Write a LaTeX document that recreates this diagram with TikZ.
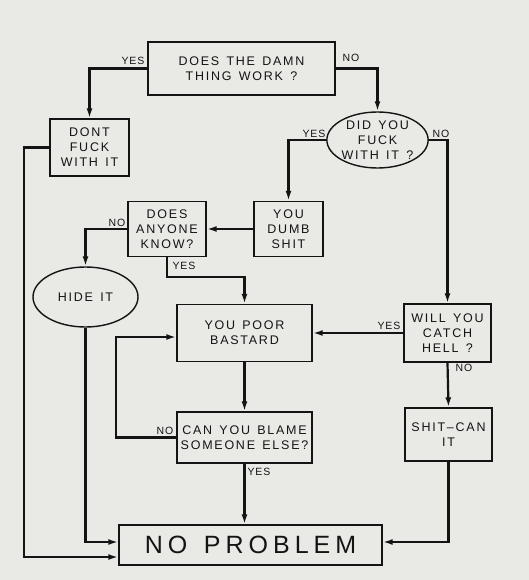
\documentclass[tikz,border=0pt]{standalone}
\usepackage{fontspec}
\setmainfont{Liberation Sans}
\newfontfamily\letterfont[LetterSpace=14,WordSpace=1.4]{Liberation Sans}
\newfontfamily\labelletterfont[LetterSpace=8]{Liberation Sans}
\newfontfamily\bigletterfont[LetterSpace=20,WordSpace=1.4]{Liberation Sans}
\usepackage{tikz}
\usetikzlibrary{
	arrows.meta,
	calc,
	positioning,
	shapes.geometric
}

\definecolor{paper}{RGB}{233,233,230}
\definecolor{ink}{RGB}{20,20,20}

\newcommand{\boxfont}{\letterfont\fontsize{12.5}{15}\selectfont}
\newcommand{\lblfont}{\labelletterfont\fontsize{10.5}{12}\selectfont}
\newcommand{\bigfont}{\bigletterfont\fontsize{25}{28}\selectfont}

\tikzset{
	box/.style={draw=ink, line width=1.4pt, align=center, inner sep=1pt, text=ink, font=\boxfont},
	oval/.style={ellipse, draw=ink, line width=1.4pt, align=center, inner sep=0pt, text=ink, font=\boxfont},
	flow/.style={draw=ink, line width=2.2pt, -{Latex[length=10pt,width=6pt]}},
	lbl/.style={inner sep=0pt, text=ink, font=\lblfont}
}

\begin{document}
\begin{tikzpicture}[x=1pt, y=-1pt]
	\fill[paper] (0,0) rectangle (529,580);
	\useasboundingbox (0,0) rectangle (529,580);
	
	% the boxes
	\node[box, minimum width=187pt, minimum height=53pt] (work) at (241.5,68.5) {DOES THE DAMN\\THING WORK ?};
	\node[box, minimum width=79pt, minimum height=57pt] (dont) at (89.5,147.5) {DONT\\FUCK\\WITH IT};
	\node[oval, minimum width=101pt, minimum height=56pt] (fuck) at (377.5,140) {DID YOU\\FUCK\\WITH IT ?};
	\node[box, minimum width=69pt, minimum height=55pt] (dumb) at (288.5,229) {YOU\\DUMB\\SHIT};
	\node[box, minimum width=78pt, minimum height=55pt] (anyone) at (167,229) {DOES\\ANYONE\\KNOW?};
	\node[oval, minimum width=105pt, minimum height=60pt] (hide) at (85.5,297) {HIDE IT};
	\node[box, minimum width=135pt, minimum height=57pt] (poor) at (244.5,333) {YOU POOR\\BASTARD};
	\node[box, minimum width=87pt, minimum height=58pt] (will) at (447.5,333) {WILL YOU\\CATCH\\HELL ?};
	\node[box, minimum width=135pt, minimum height=51pt] (blame) at (244.5,437.5) {CAN YOU BLAME\\SOMEONE ELSE?};
	\node[box, minimum width=87pt, minimum height=53pt] (shitcan) at (448.5,434.5) {SHIT–CAN\\IT};
	\node[box, minimum width=263pt, minimum height=40pt, font=\bigfont] (noprob) at (250.5,545) {NO PROBLEM};
	
	% yes / no labels
	\node[lbl] (yes1) at (133,61) {YES};
	\node[lbl] (no1) at (351,58) {NO};
	\node[lbl] (yes2) at (314,134) {YES};
	\node[lbl] (no2) at (441,134) {NO};
	\node[lbl] (no3) at (117,223) {NO};
	\node[lbl] (yes3) at (184,266) {YES};
	\node[lbl] (yes4) at (389,326) {YES};
	\node[lbl] (no4) at (464,368) {NO};
	\node[lbl] (no5) at (165,431) {NO};
	\node[lbl] (yes5) at (259,472) {YES};
	
	% connectors
	\draw[flow] (work.west) -| (dont.north);
	\draw[flow] (work.east) -| (fuck.north);
	\draw[flow] (fuck.west) -| (dumb.north);
	\draw[flow] (fuck.east) -| (will.north);
	\draw[flow] (dumb.west) -- (anyone.east);
	\draw[flow] (anyone.west) -| (hide.north);
	\draw[flow] (anyone.south) -- ++(0,20) -| (poor.north);
	\draw[flow] (will.west) -- (poor.east);
	\draw[flow] (poor.south) -- (blame.north);
	\draw[flow] (blame.west) -- ++(-60,0) |- ([yshift=-4pt]poor.west);
	\draw[flow] (will.south) -- (shitcan.north);
	\draw[flow] (blame.south) -- (blame.south |- noprob.north);
	\draw[flow] (shitcan.south) |- ([yshift=3pt]noprob.east);
	\draw[flow] (hide.south) |- ([yshift=3pt]noprob.west);
	\draw[flow] (dont.west) -- ++(-25,0) |- ([yshift=-12pt]noprob.west);
\end{tikzpicture}
\end{document}
